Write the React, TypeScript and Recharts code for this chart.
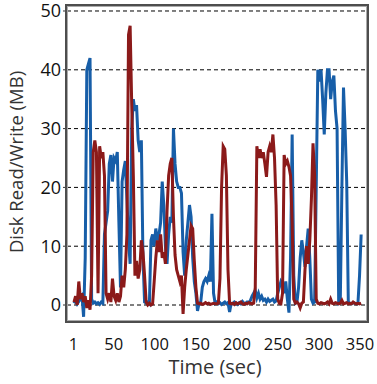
import { LineChart, Line, XAxis, YAxis, CartesianGrid } from "recharts";

// disk read (blue) and write (red) in MB, one sample every ~2 s
const readMB = [
  0.3, 0.8, 0.2, 0.6, 1.0, 1.5, -2, 8, 40, 41, 42, 1, 0.3, 0.5, 0.2, 0.4, 0.1, 0.5, 0.3, 12,
  14, 16, 24, 25.5, 21, 25, 24.5, 26, 14, 3, 21, 23, 24.5, 18, 11, 7, 30, 35, 33, 34,
  28, 26, 28, 8, 0.5, 0.3, 0.5, 0.2, 11, 12, 10, 13, 11, 12, 14, 21, 17, 10, 7, 12,
  15, 14, 30, 24, 21, 20, 20, 19, 9, 5, 11, 14, 17, 15, 8, 4, 2, -1, 0.3, 0.5,
  3, 4, 4.5, 4, 5, 4, 15.5, 2, 0.3, 0.5, 0.2, 0.4, 0.1, 0.3, 0.5, 0.2, 0.4, -1.2, 0.3, 0.2,
  0.5, 0.3, 0.1, 0.4, 0.2, 0.6, 0.3, 0.2, 0.5, 0.4, 0.8, 1.5, 2, 2.5, 1.2, 2, 1, 1.5, 0.8, 1,
  0.5, 1, 0.6, 0.8, 1, 0.5, 0.7, 2, 3, 4, 3.5, 2, 4, 1, -1.3, 8, 29, 5, 0.3, 0.5,
  3, 8, 11, 9, 6.5, 10, 13, 8, 1, 0.3, 0.5, 20, 40, 38, 40, 35, 29, 36, 40, 40,
  35, 38, 39, 33, 30, 0.3, 0.5, 20, 37, 30, 21, 0.5, 0.3, 0.2, 0.4, 0.3, 0.2, 0.3, 5, 12,
];

const writeMB = [
  0.5, 1.5, 0, 4, 1, 2, 0.5, 1.5, -0.5, 0.8, -0.8, 5, 26, 28, 26, 2, 27, 25, 26, 22,
  2, 1, 2, 0.5, 4.5, 1.5, 0.8, 2, 0.5, 1.5, 5, 3, 6, 12, 46, 47.5, 34, 22, 5, 7.5,
  4.5, 6, 11, 9, 5, 0.5, 0, 0.3, 0, 0.2, 4, 8, 11, 9, 12, 8, 9, 7, 16, 22,
  24, 25, 15, 8.5, 6, 5, 4, 5, -1.5, 3, 6, 8.5, 11, 13.5, 13, 7.5, 3, 0.3, 0.2, 0.3,
  0.1, 0.2, 0.4, 0.2, 0.3, 0.1, 0.2, 0.3, 0.2, 0.2, 0.3, 4.5, 20, 27, 26.5, 22, 6, 0.3, 0.2, 0.3,
  0.1, 0.4, 0.2, 0.3, 0.5, 0.2, 0.1, 0.3, 0.2, 0.4, 0.3, 0.2, 0.3, 3, 27, 25, 26.5, 25, 26, 24,
  21.8, 26, 27, 26, 29, 25, 17, 1, 0.3, 0.2, 2, 25.5, 24, 24.5, 23.5, 22, 14, 1, 0.3, 0.5,
  0.2, -0.5, 0.3, 0.5, 6, 10, 7, 11, 18, 27.5, 22, 1, 0.3, 0.2, 0.4, 0.3, 0.2, 0.3, 0.5, 0.2,
  1, 0.3, 0.2, 0.4, 0.3, 0.2, 0.3, 0.8, 0.2, 0.3, 0.4, 0.2, 0.3, 0.2, 0.5, 0.3, 0.2, 0.3, 0.2, 0.3,
];

const sampleStart = 1.6;
const sampleStep = 1.954;

const xTicks = [1, 50, 100, 150, 200, 250, 300, 350];
const yTicks = [0, 10, 20, 30, 40, 50];

const data = readMB.map((v, i) => ({
  t: sampleStart + i * sampleStep,
  read: v,
  write: writeMB[i],
}));

const font = "'Open Sans', 'DejaVu Sans', sans-serif";

export default function App() {
  return (
    <div style={{ position: "absolute", left: 0, top: 0, width: 377, height: 384, background: "#fff", fontFamily: font }}>
      <LineChart
        width={377}
        height={384}
        data={data}
        margin={{ top: 6, right: 10, bottom: 0, left: 0 }}
      >
        <CartesianGrid vertical={false} stroke="#000" strokeDasharray="4 3" />
        <XAxis
          dataKey="t"
          type="number"
          domain={[-6.9, 358.5]}
          ticks={xTicks}
          allowDataOverflow
          height={63}
          axisLine={false}
          tickLine={false}
          tickMargin={11}
          tick={{ fontSize: 16.5, fill: "#111", fontFamily: font }}
          interval={0}
        />
        <YAxis
          type="number"
          domain={[-2.72, 50.85]}
          ticks={yTicks}
          allowDataOverflow
          width={67}
          axisLine={false}
          tickLine={{ stroke: "#333" }}
          tickSize={4}
          tickMargin={2}
          tick={{ fontSize: 18, fill: "#111", fontFamily: font, dy: "0.45em" }}
          interval={0}
        />
        <Line
          type="linear"
          dataKey="read"
          stroke="#175ea8"
          strokeWidth={3}
          dot={false}
          isAnimationActive={false}
        />
        <Line
          type="linear"
          dataKey="write"
          stroke="#8b1a1a"
          strokeWidth={3}
          dot={false}
          isAnimationActive={false}
        />
      </LineChart>
      <div
        style={{
          position: "absolute",
          left: 65,
          top: 4,
          width: 304,
          height: 319,
          boxSizing: "border-box",
          border: "2px solid #4d4d4d",
          boxShadow: "inset 0 0 0 1px #aaa",
          pointerEvents: "none",
        }}
      />
      <div
        style={{
          position: "absolute",
          left: 215,
          top: 366,
          transform: "translate(-50%, -50%)",
          fontSize: 20,
          color: "#333",
          whiteSpace: "nowrap",
        }}
      >
        Time (sec)
      </div>
      <div
        style={{
          position: "absolute",
          left: 15,
          top: 162,
          transform: "translate(-50%, -50%) rotate(-90deg)",
          fontSize: 18.5,
          color: "#333",
          whiteSpace: "nowrap",
        }}
      >
        Disk Read/Write (MB)
      </div>
    </div>
  );
}
